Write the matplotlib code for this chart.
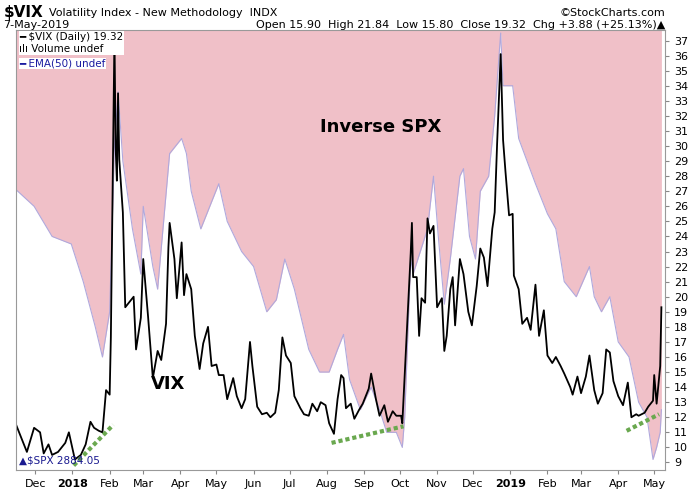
import matplotlib
matplotlib.use("Agg")
import matplotlib.pyplot as plt
import pandas as pd

vix_dates = ["2017-11-15","2017-11-20","2017-11-24","2017-11-30","2017-12-05","2017-12-08","2017-12-12","2017-12-15","2017-12-20","2017-12-26","2017-12-29",
"2018-01-03","2018-01-08","2018-01-12","2018-01-16","2018-01-19","2018-01-23","2018-01-26","2018-01-29","2018-02-01","2018-02-02","2018-02-05","2018-02-06","2018-02-07","2018-02-08","2018-02-09","2018-02-12","2018-02-14","2018-02-16","2018-02-21","2018-02-23","2018-02-27",
"2018-03-01","2018-03-05","2018-03-09","2018-03-13","2018-03-16","2018-03-20","2018-03-22","2018-03-23","2018-03-27","2018-03-29","2018-04-02","2018-04-04","2018-04-06","2018-04-10","2018-04-13","2018-04-17","2018-04-20","2018-04-24","2018-04-27",
"2018-05-01","2018-05-03","2018-05-07","2018-05-10","2018-05-15","2018-05-18","2018-05-22","2018-05-25","2018-05-29","2018-05-31","2018-06-04","2018-06-08","2018-06-12","2018-06-15","2018-06-19","2018-06-22","2018-06-25","2018-06-28",
"2018-07-02","2018-07-05","2018-07-10","2018-07-13","2018-07-17","2018-07-20","2018-07-24","2018-07-27","2018-07-31","2018-08-03","2018-08-07","2018-08-10","2018-08-13","2018-08-15","2018-08-17","2018-08-21","2018-08-24","2018-08-28","2018-08-31",
"2018-09-05","2018-09-07","2018-09-11","2018-09-14","2018-09-18","2018-09-21","2018-09-25","2018-09-28","2018-10-02","2018-10-03","2018-10-05","2018-10-10","2018-10-11","2018-10-12","2018-10-15","2018-10-17","2018-10-19","2018-10-22","2018-10-24","2018-10-26","2018-10-29",
"2018-11-01","2018-11-05","2018-11-07","2018-11-09","2018-11-12","2018-11-14","2018-11-16","2018-11-20","2018-11-23","2018-11-27","2018-11-30","2018-12-04","2018-12-07","2018-12-10","2018-12-13","2018-12-17","2018-12-19","2018-12-21","2018-12-24","2018-12-26","2018-12-28","2018-12-31",
"2019-01-03","2019-01-04","2019-01-08","2019-01-11","2019-01-15","2019-01-18","2019-01-22","2019-01-25","2019-01-29","2019-02-01","2019-02-05","2019-02-08","2019-02-12","2019-02-15","2019-02-20","2019-02-22","2019-02-26","2019-03-01","2019-03-05","2019-03-08","2019-03-12","2019-03-15","2019-03-19","2019-03-22","2019-03-25","2019-03-28",
"2019-04-01","2019-04-05","2019-04-09","2019-04-12","2019-04-16","2019-04-18","2019-04-23","2019-04-26","2019-04-30","2019-05-01","2019-05-03","2019-05-06","2019-05-07"]
vix_vals = [11.5,10.5,9.7,11.3,11.0,9.6,10.2,9.5,9.7,10.3,11.0,
9.2,9.5,10.2,11.7,11.3,11.1,11.0,13.8,13.5,17.3,37.3,29.9,27.7,33.5,29.1,25.6,19.3,19.5,20.0,16.5,18.6,
22.5,18.7,14.6,16.4,15.8,18.2,23.3,24.9,22.5,19.9,23.6,20.1,21.5,20.5,17.4,15.2,16.9,18.0,15.4,
15.5,14.8,14.8,13.2,14.6,13.4,12.6,13.2,17.0,15.4,12.7,12.2,12.3,12.0,12.3,13.8,17.3,16.1,
15.6,13.4,12.6,12.2,12.1,12.9,12.4,13.0,12.8,11.6,10.9,13.2,14.8,14.6,12.6,12.9,11.9,12.5,12.9,
13.9,14.9,13.2,12.1,12.8,11.7,12.4,12.1,12.1,11.6,14.8,22.9,24.9,21.3,21.3,17.4,19.9,19.6,25.2,24.2,24.7,
19.3,19.9,16.4,17.4,20.5,21.3,18.1,22.5,21.5,19.0,18.1,20.7,23.2,22.6,20.7,24.5,25.6,30.1,36.1,30.4,28.3,25.4,
25.5,21.4,20.5,18.2,18.6,17.8,20.8,17.4,19.1,16.1,15.6,16.0,15.4,14.9,14.0,13.5,14.7,13.6,14.7,16.1,13.8,12.9,13.6,16.5,16.3,14.4,
13.4,12.8,14.3,12.0,12.2,12.1,12.3,12.7,13.1,14.8,12.9,15.4,19.3]

spx_dates = ["2017-11-15","2017-11-30","2017-12-15","2017-12-31","2018-01-10","2018-01-20","2018-01-26","2018-02-01","2018-02-05","2018-02-08","2018-02-12","2018-02-20","2018-02-27",
"2018-03-01","2018-03-09","2018-03-13","2018-03-23","2018-04-02","2018-04-06","2018-04-10","2018-04-18","2018-05-03","2018-05-10","2018-05-22","2018-06-01","2018-06-12","2018-06-20","2018-06-27",
"2018-07-05","2018-07-17","2018-07-26","2018-08-03","2018-08-10","2018-08-15","2018-08-20","2018-08-29","2018-09-07","2018-09-14","2018-09-20","2018-09-28","2018-10-03","2018-10-05","2018-10-10","2018-10-12","2018-10-24","2018-10-29",
"2018-11-02","2018-11-07","2018-11-12","2018-11-20","2018-11-23","2018-11-28","2018-12-03","2018-12-07","2018-12-14","2018-12-19","2018-12-24","2018-12-26",
"2019-01-03","2019-01-08","2019-01-15","2019-01-22","2019-02-01","2019-02-08","2019-02-15","2019-02-25","2019-03-08","2019-03-12","2019-03-18","2019-03-25",
"2019-04-01","2019-04-10","2019-04-18","2019-04-25","2019-04-30","2019-05-03","2019-05-06","2019-05-07"]
spx_inv = [27.1,26.0,24.0,23.5,21.0,18.0,16.0,19.0,30.0,33.6,29.0,24.5,21.5,
26.0,22.0,20.5,29.5,30.5,29.5,27.0,24.5,27.5,25.0,23.0,22.0,19.0,19.8,22.5,
20.5,16.5,15.0,15.0,16.5,17.5,14.5,12.5,14.0,12.5,11.0,11.0,10.0,12.0,22.5,21.5,24.5,28.0,
24.0,19.5,22.5,28.0,28.5,24.0,22.5,27.0,28.0,32.0,37.5,34.0,
34.0,30.5,29.0,27.5,25.5,24.5,21.0,20.0,22.0,20.0,19.0,20.0,
17.0,16.0,13.0,12.0,9.2,10.0,11.0,12.5]

trend_lines = [(("2018-01-02", 8.8), ("2018-02-04", 11.5)),
               (("2018-08-05", 10.3), ("2018-10-04", 11.4)),
               (("2019-04-08", 11.1), ("2019-05-05", 12.2))]

vd = pd.to_datetime(vix_dates)
sd = pd.to_datetime(spx_dates)
ymin, ymax = 8.5, 37.7

fig = plt.figure(figsize=(7, 5), dpi=100)
ax = fig.add_axes([0.023, 0.06, 0.927, 0.88])
ax.fill_between(sd, spx_inv, ymax, color="#f0c0c8", lw=0)
ax.plot(sd, spx_inv, color="#b0a8dc", lw=0.8)
ax.plot(vd, vix_vals, color="black", lw=1.3)
for (d0, v0), (d1, v1) in trend_lines:
    ax.plot(pd.to_datetime([d0, d1]), [v0, v1], color="#6aa84f", lw=3, ls=(0, (1, 0.7)))
ax.text(pd.Timestamp("2018-03-07"), 13.9, "VIX", fontsize=13, fontweight="bold")
ax.text(pd.Timestamp("2018-07-26"), 30.9, "Inverse SPX", fontsize=13, fontweight="bold")

ax.set_ylim(ymin, ymax)
ax.set_xlim(pd.Timestamp("2017-11-15"), pd.Timestamp("2019-05-10"))
ax.yaxis.tick_right()
ax.set_yticks(range(9, 38))
ax.tick_params(axis="y", labelsize=8, length=3, color="#888")
months = pd.date_range("2017-12-01", "2019-05-01", freq="MS")
ax.set_xticks(months)
labels = [str(m.year) if m.month == 1 else m.strftime("%b") for m in months]
ax.set_xticklabels(labels, fontsize=8)
for t, m in zip(ax.get_xticklabels(), months):
    if m.month == 1:
        t.set_fontweight("bold")
ax.tick_params(axis="x", length=3, color="#888")
for s in ax.spines.values():
    s.set_color("#999")

ax.text(0.005, 0.995, "━ $VIX (Daily) 19.32\nılı Volume undef", transform=ax.transAxes, va="top", fontsize=7.5,
        family="DejaVu Sans", bbox=dict(fc="white", ec="none", pad=0.5))
ax.text(0.005, 0.935, "━ EMA(50) undef", transform=ax.transAxes, va="top", fontsize=7.5, color="#1a1aa0",
        bbox=dict(fc="white", ec="none", pad=0.5))
ax.text(0.005, 0.015, "▲$SPX 2884.05", transform=ax.transAxes, fontsize=7.5, color="#1a1a90")

fig.text(0.005, 0.975, "$VIX", fontsize=11, fontweight="bold", va="center")
fig.text(0.07, 0.975, "Volatility Index - New Methodology  INDX", fontsize=8, va="center")
fig.text(0.005, 0.95, "7-May-2019", fontsize=8, va="center")
fig.text(0.95, 0.975, "©StockCharts.com", fontsize=8, ha="right", va="center")
fig.text(0.95, 0.95, "Open 15.90  High 21.84  Low 15.80  Close 19.32  Chg +3.88 (+25.13%)▲",
         fontsize=8, ha="right", va="center")
fig.savefig("out.png", dpi=100)
